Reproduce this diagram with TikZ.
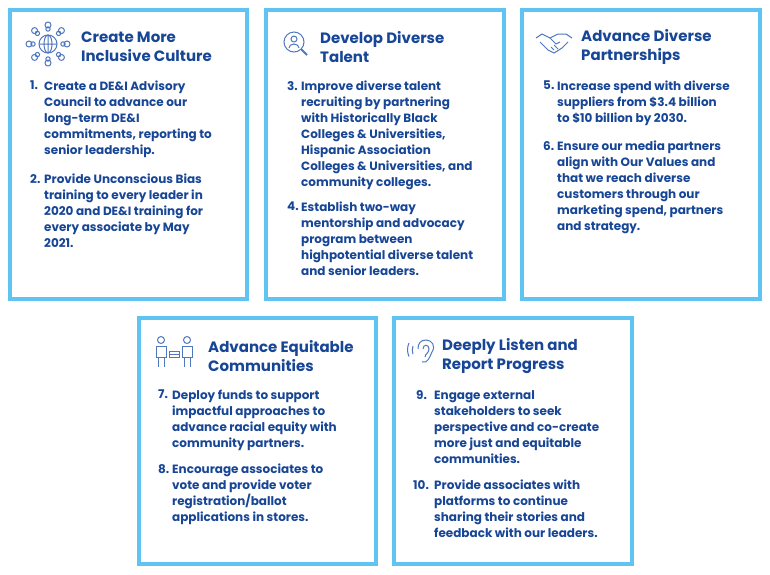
\documentclass[tikz,border=0pt]{standalone}
\usepackage{fontspec}
\setmainfont{Poppins}
\usetikzlibrary{positioning}
\definecolor{frameblue}{RGB}{96,196,242}
\definecolor{inkblue}{RGB}{24,70,150}
\definecolor{iconblue}{RGB}{80,120,190}
\tikzset{
  panel/.style={draw=frameblue,line width=4pt,fill=white},
  heading/.style={anchor=west,align=left,text=inkblue,font=\fontsize{15}{19}\selectfont\bfseries,inner sep=0pt},
  num/.style={anchor=north west,text=inkblue,font=\fontsize{12}{16}\selectfont\bfseries,inner sep=0pt},
  body/.style={anchor=north west,align=left,text=inkblue,font=\fontsize{12}{16}\selectfont\bfseries,inner sep=0pt},
  icon/.style={draw=iconblue,line width=1pt}
}
\begin{document}
\begin{tikzpicture}[x=1pt,y=-1pt]
\useasboundingbox (0,0) rectangle (770,574);
% panels
\draw[panel] (10,10) rectangle (247,299);
\draw[panel] (266,10) rectangle (504,299);
\draw[panel] (522,10) rectangle (760,299);
\draw[panel] (139,318) rectangle (376,564);
\draw[panel] (394,318) rectangle (632,564);
% headings
\node[heading] (h1) at (81,47) {Create More\\Inclusive Culture};
\node[heading] (h2) at (320,47) {Develop Diverse\\Talent};
\node[heading] (h3) at (581,47) {Advance Diverse\\Partnerships};
\node[heading] (h4) at (208,356) {Advance Equitable\\Communities};
\node[heading] (h5) at (442,356) {Deeply Listen and\\Report Progress};
% items
\node[num] (n1) at (30,81) {1.};
\node[body] (t1) at (44,81) {Create a DE\&I Advisory\\Council to advance our\\long-term DE\&I\\commitments, reporting to\\senior leadership.};
\node[num] (n2) at (30,174) {2.};
\node[body] (t2) at (44,174) {Provide Unconscious Bias\\training to every leader in\\2020 and DE\&I training for\\every associate by May\\2021.};
\node[num] (n3) at (287,81) {3.};
\node[body] (t3) at (301,81) {Improve diverse talent\\recruiting by partnering\\with Historically Black\\Colleges \& Universities,\\Hispanic Association\\Colleges \& Universities, and\\community colleges.};
\node[num] (n4) at (287,202) {4.};
\node[body] (t4) at (301,202) {Establish two-way\\mentorship and advocacy\\program between\\highpotential diverse talent\\and senior leaders.};
\node[num] (n5) at (543,81) {5.};
\node[body] (t5) at (557,81) {Increase spend with diverse\\suppliers from \$3.4 billion\\to \$10 billion by 2030.};
\node[num] (n6) at (543,141) {6.};
\node[body] (t6) at (557,141) {Ensure our media partners\\align with Our Values and\\that we reach diverse\\customers through our\\marketing spend, partners\\and strategy.};
\node[num] (n7) at (158,390) {7.};
\node[body] (t7) at (172,390) {Deploy funds to support\\impactful approaches to\\advance racial equity with\\community partners.};
\node[num] (n8) at (158,464) {8.};
\node[body] (t8) at (172,464) {Encourage associates to\\vote and provide voter\\registration/ballot\\applications in stores.};
\node[num] (n9) at (416,390) {9.};
\node[body] (t9) at (434,390) {Engage external\\stakeholders to seek\\perspective and co-create\\more just and equitable\\communities.};
\node[num] (n10) at (413,480) {10.};
\node[body] (t10) at (434,480) {Provide associates with\\platforms to continue\\sharing their stories and\\feedback with our leaders.};
% icon: globe with people
\begin{scope}[shift={(48,44)}]
  \draw[icon] (0,0) circle (9);
  \draw[icon] (0,-9) -- (0,9) (-9,0) -- (9,0) (0,0) ellipse (4 and 9);
  \foreach \a in {0,45,...,315}
    \draw[icon] (\a:15) circle (2.2) ++(\a:4) circle (3);
\end{scope}
% icon: magnifier with person
\begin{scope}[shift={(294,42)}]
  \draw[icon] (0,0) circle (10);
  \draw[icon] (0,-3) circle (3);
  \draw[icon] (-5,6) arc (180:360:5 and 4);
  \draw[icon,line width=2pt] (7,7) -- (13,13);
\end{scope}
% icon: handshake
\begin{scope}[shift={(554,44)}]
  \draw[icon] (-18,-6) -- (-12,-10) -- (-4,-6) -- (4,-10) -- (12,-10) -- (18,-6);
  \draw[icon] (-14,-2) -- (-6,6) -- (0,9) -- (8,4) -- (14,-2);
  \draw[icon] (-4,-6) -- (2,0) -- (6,-2);
  \draw[icon] (-3,3) -- (0,6) (0,1) -- (4,5);
\end{scope}
% icon: two people with equals
\begin{scope}[shift={(174,353)}]
  \foreach \x in {-13,13}{
    \draw[icon] (\x,-13) circle (3.5);
    \draw[icon] (\x-5,-7) rectangle (\x+5,4);
    \draw[icon] (\x-3,4) -- (\x-3,14) (\x+3,4) -- (\x+3,14);
  }
  \draw[icon] (-5,-2) rectangle (5,4);
  \draw[icon] (-5,1) -- (5,1);
\end{scope}
% icon: ear with sound waves
\begin{scope}[shift={(424,352)}]
  \draw[icon] (-2,10) .. controls (4,12) and (6,4) .. (8,0) .. controls (12,-6) and (8,-12) .. (2,-12) .. controls (-4,-12) and (-6,-8) .. (-6,-3);
  \draw[icon] (-1,-3) .. controls (-1,-8) and (5,-8) .. (5,-3) .. controls (5,1) and (1,2) .. (1,5);
  \draw[icon] (-11,-6) arc (200:160:12);
  \draw[icon] (-15,-9) arc (205:155:16);
\end{scope}
\end{tikzpicture}
\end{document}
